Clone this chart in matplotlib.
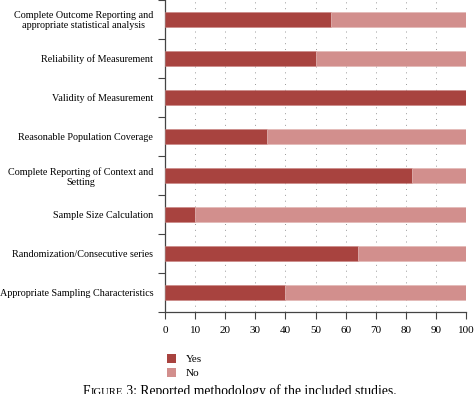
import matplotlib
matplotlib.use("Agg")
import matplotlib.pyplot as plt
from matplotlib.patches import Patch

categories = [
    "Appropriate Sampling Characteristics",
    "Randomization/Consecutive series",
    "Sample Size Calculation",
    "Complete Reporting of Context and\nSetting",
    "Reasonable Population Coverage",
    "Validity of Measurement",
    "Reliability of Measurement",
    "Complete Outcome Reporting and\nappropriate statistical analysis",
]
yes_values = [40, 64, 10, 82, 34, 100, 50, 55]
no_values = [60, 36, 90, 18, 66, 0, 50, 45]
x_ticks = [0, 10, 20, 30, 40, 50, 60, 70, 80, 90, 100]
series_labels = ["Yes", "No"]

dark = "#A8433F"
light = "#D28F8D"

plt.rcParams["font.family"] = ["Liberation Serif", "DejaVu Serif"]

W, H = 474, 394
fig = plt.figure(figsize=(W / 100, H / 100), dpi=100)
ax = fig.add_axes([165 / W, (H - 312) / H, (466 - 165) / W, 312 / H])

ypos = list(range(len(categories)))
ax.barh(ypos, yes_values, height=0.4, color=dark, edgecolor="#C98582", linewidth=0.4, zorder=3)
ax.barh(ypos, no_values, left=yes_values, height=0.4, color=light, edgecolor="#E2B5B3",
        linewidth=0.4, zorder=3)

ax.set_xlim(0, 100)
ax.set_ylim(-0.5, len(categories) - 0.5)
ax.set_xticks(x_ticks)
ax.set_xticklabels([str(t) for t in x_ticks], fontsize=8)
ax.set_yticks(ypos)
ax.set_yticklabels(categories, fontsize=7.3, linespacing=1.1, multialignment="center")
ax.set_yticks([i + 0.5 for i in range(-1, len(categories))], minor=True)
ax.tick_params(axis="y", which="major", length=0, pad=8.5)
ax.tick_params(axis="y", which="minor", length=5, width=0.8, color="#444444")
ax.tick_params(axis="x", which="major", length=5, width=0.8, color="#444444", pad=5)

for s in ["top", "right"]:
    ax.spines[s].set_visible(False)
for s in ["left", "bottom"]:
    ax.spines[s].set_color("#444444")
    ax.spines[s].set_linewidth(0.9)

ax.grid(axis="x", color="#999999", linestyle=(0, (1, 5)), linewidth=0.7, zorder=0)
ax.set_axisbelow(True)

handles = [Patch(facecolor=dark), Patch(facecolor=light)]
fig.legend(handles, series_labels, loc="upper left", bbox_to_anchor=(159 / W, 1 - 346 / H),
           frameon=False, fontsize=8, handlelength=0.8, handleheight=0.9, handletextpad=0.9,
           labelspacing=0.3, borderpad=0.2)

# Caption with small caps "Figure"
renderer = fig.canvas.get_renderer()
base_y = 1 - 395 / H
x_px = 83
parts = [("F", 9.8), ("IGURE", 7.7), (" 3: Reported methodology of the included studies.", 9.8)]
for txt, fs in parts:
    t = fig.text(x_px / W, base_y, txt, ha="left", va="baseline", fontsize=fs)
    bb = t.get_window_extent(renderer=renderer)
    x_px = bb.x1

fig.savefig("out.png", dpi=100)
